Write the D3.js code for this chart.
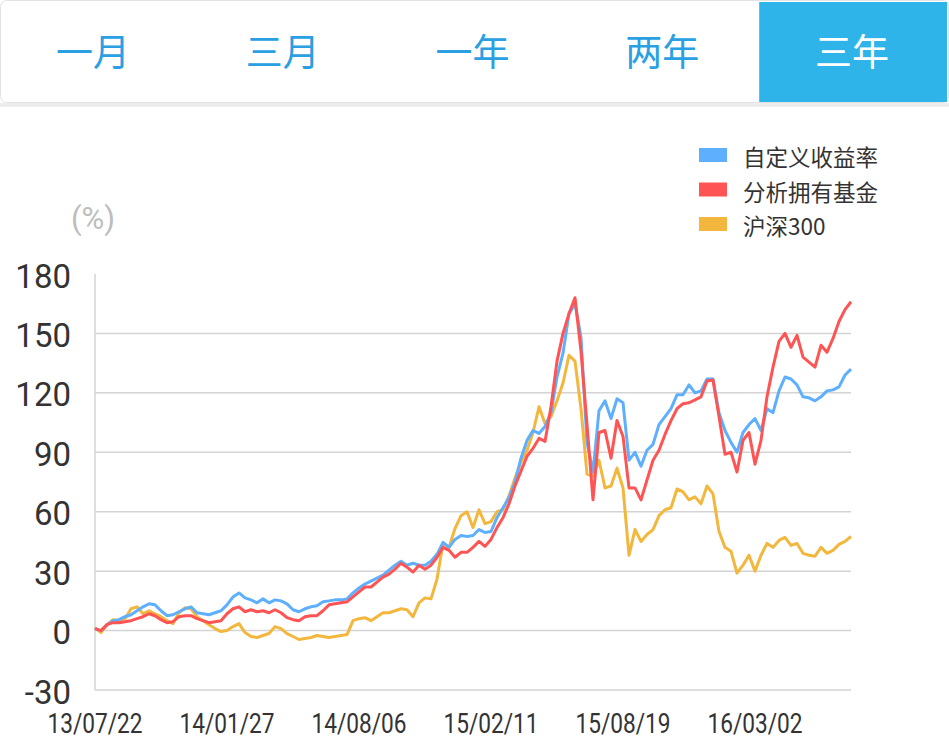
<!DOCTYPE html>
<html>
<head>
<meta charset="utf-8">
<script src="https://cdn.jsdelivr.net/npm/d3@7"></script>
<style>
  body { margin: 0; background: #fff; }
  svg { display: block; font-family: Roboto, "Noto Sans CJK SC", sans-serif; }
</style>
</head>
<body>
<div id="container"></div>
<script>
// tabs on top
const tabs = ["一月", "三月", "一年", "两年", "三年"];
const activeTab = "三年";

// legend / series names
const seriesNames = ["自定义收益率", "分析拥有基金", "沪深300"];
const seriesColors = ["#5eb0ff", "#ff5454", "#f2b73c"];

// x tick labels, one every 22 points
const dateLabels = ["13/07/22", "14/01/27", "14/08/06", "15/02/11", "15/08/19", "16/03/02"];
const labelStep = 22;

const yTicks = [-30, 0, 30, 60, 90, 120, 150, 180];

// returns in %
const custom = [1, 0, 3, 5, 5.5, 7, 8, 10, 12, 13.5, 13, 10, 7.5, 8, 9.5, 11, 12, 9, 8.5, 8,
  9, 10, 13, 17, 19, 16.5, 15.5, 14, 16, 14, 15.5, 15, 13.5, 10.5, 9.5, 11, 12, 12.5, 14.5, 15,
  15.5, 15.5, 16, 19, 21.5, 23.5, 25, 26.5, 28, 30.5, 33, 35, 33, 34, 33, 33, 35, 38.5, 44.5, 42,
  46, 48, 47.5, 48, 51, 49.5, 50, 57, 62, 67, 75, 87, 96, 101, 99.5, 103, 110, 128, 140, 160,
  165, 148, 95, 80, 111, 116, 107, 117, 115, 86, 90, 83, 91, 94, 104, 108, 112, 119, 119, 124,
  120, 121, 127, 127, 110, 101, 95, 90, 100, 104, 107, 101, 112, 110, 121, 128, 127, 124, 118, 117.5,
  116, 118, 121, 121.5, 123, 129, 132];

const fund = [1, 0, 3, 4, 4, 4.5, 5, 6, 7, 8.5, 7.5, 5.5, 4, 4.5, 7, 7.5, 7.5, 6, 5, 4,
  4.5, 5, 8.5, 11, 12, 9.5, 10.5, 9.5, 10, 9, 10.5, 9, 6.5, 5.5, 5, 7, 7.5, 7.5, 10, 13,
  13.5, 14, 14.5, 17, 19.5, 22, 22, 24.5, 27, 28.5, 31, 34, 32, 29.5, 33, 31, 33, 37, 42, 40.5,
  37, 39.5, 39.5, 42, 45, 42.5, 46, 52, 57, 64, 73, 80.5, 88, 92, 97, 95.5, 113, 136, 150, 160,
  168, 141, 104, 66, 100, 101, 87, 106, 98, 72, 72, 66, 76, 86, 91, 99, 106, 112, 114.5, 115,
  116.5, 118, 126, 126.5, 108, 89, 90, 80, 96, 100, 84, 96, 118, 133, 146, 150, 143, 149, 138, 135.5,
  133, 144, 140.5, 147.5, 156, 162, 166];

const hs300 = [1.5, -1, 3, 5.5, 5, 6, 11, 12, 8.5, 10, 8.5, 7, 5, 3.5, 9, 11.5, 11, 7, 5, 3,
  1, -0.5, 0, 2, 3.5, -1, -3, -3.5, -2.5, -1.5, 2, 1, -1.5, -3, -4.5, -4, -3.5, -2.5, -3, -3.5,
  -3, -2.5, -2, 5, 6, 6.5, 5, 7, 9, 9, 10, 11, 10.5, 7, 14, 16.5, 16, 26, 44, 42,
  51.5, 58, 60, 52, 61, 54, 55, 60, 61, 68, 77, 85, 91, 100, 113, 104.5, 108, 116, 125, 139,
  136, 112, 79, 78, 86, 72, 73, 82, 72, 38, 51, 45, 48.5, 51, 58, 61, 62, 71.5, 70, 66,
  67.5, 64, 73, 69, 50, 42, 40, 29, 33, 38, 30, 38, 44, 42, 45.5, 47, 43, 44, 39, 38,
  37.5, 42, 39, 40.5, 43.5, 45, 47.5];

const series = [custom, fund, hs300];

const W = 949, H = 739;
const svg = d3.select("#container").append("svg")
  .attr("width", W).attr("height", H);

// ---- tab bar ----
const tabW = W / tabs.length;
svg.append("rect").attr("x", 0).attr("y", 103).attr("width", W).attr("height", 4).attr("fill", "#ededed");
svg.append("rect")
  .attr("x", 0.5).attr("y", 0.5).attr("width", W - 1).attr("height", 102)
  .attr("rx", 6).attr("fill", "#fff").attr("stroke", "#e2e2e2");

const tab = svg.selectAll(".tab").data(tabs).join("g")
  .attr("transform", (d, i) => `translate(${i * tabW},0)`);
tab.filter(d => d == activeTab).append("rect")
  .attr("x", 0).attr("y", 2).attr("width", tabW - 2).attr("height", 100)
  .attr("fill", "#2eb4e9");
tab.append("text")
  .attr("x", tabW / 2 - 2).attr("y", 50)
  .attr("text-anchor", "middle").attr("dominant-baseline", "central")
  .attr("font-family", "'Noto Sans CJK SC', sans-serif")
  .attr("font-size", 37)
  .attr("fill", d => d == activeTab ? "#fff" : "#2a9fe2")
  .text(d => d);

// ---- chart ----
const x = d3.scaleLinear().domain([0, custom.length - 1]).range([95, 851]);
const y = d3.scaleLinear().domain([-30, 180]).range([690, 274]);

// grid lines
svg.append("g").selectAll("line")
  .data(yTicks.filter(d => d < 180))
  .join("line")
  .attr("x1", 95).attr("x2", 851)
  .attr("y1", d => y(d)).attr("y2", d => y(d))
  .attr("stroke", "#d4d4d4").attr("stroke-width", 1.5);

svg.append("line")
  .attr("x1", 95).attr("x2", 95).attr("y1", y(180)).attr("y2", y(-30))
  .attr("stroke", "#d4d4d4").attr("stroke-width", 1.5);

// y axis labels
svg.append("g").selectAll("text")
  .data(yTicks).join("text")
  .attr("x", 71).attr("y", d => y(d) + 2)
  .attr("text-anchor", "end").attr("dominant-baseline", "central")
  .attr("font-size", 33).attr("fill", "#333")
  .text(d => d);

svg.append("text")
  .attr("x", 93).attr("y", 218)
  .attr("text-anchor", "middle").attr("dominant-baseline", "central")
  .attr("font-size", 31).attr("fill", "#bdbdbd")
  .text("(%)");

// x axis labels
svg.append("g").selectAll("text")
  .data(dateLabels).join("text")
  .attr("transform", (d, i) => `translate(${x(i * labelStep)},724) scale(0.84,1)`)
  .attr("text-anchor", "middle").attr("dominant-baseline", "central")
  .attr("font-size", 27).attr("fill", "#333")
  .text(d => d);

// lines
const line = d3.line().x((d, i) => x(i)).y(d => y(d));
svg.append("g").selectAll("path")
  .data([2, 0, 1])
  .join("path")
  .attr("d", k => line(series[k]))
  .attr("fill", "none")
  .attr("stroke", k => seriesColors[k])
  .attr("stroke-width", 3)
  .attr("stroke-linejoin", "round");

// legend
const lg = svg.append("g").selectAll("g")
  .data(seriesNames).join("g")
  .attr("transform", (d, i) => `translate(699,${155 + i * 34.5})`);
lg.append("rect")
  .attr("x", 0).attr("y", -7).attr("width", 28).attr("height", 14)
  .attr("fill", (d, i) => seriesColors[i]);
lg.append("text")
  .attr("x", 44).attr("y", 1)
  .attr("dominant-baseline", "central")
  .attr("font-family", "'Noto Sans CJK SC', sans-serif")
  .attr("font-size", 22.5).attr("fill", "#333")
  .text(d => d);
</script>
</body>
</html>
